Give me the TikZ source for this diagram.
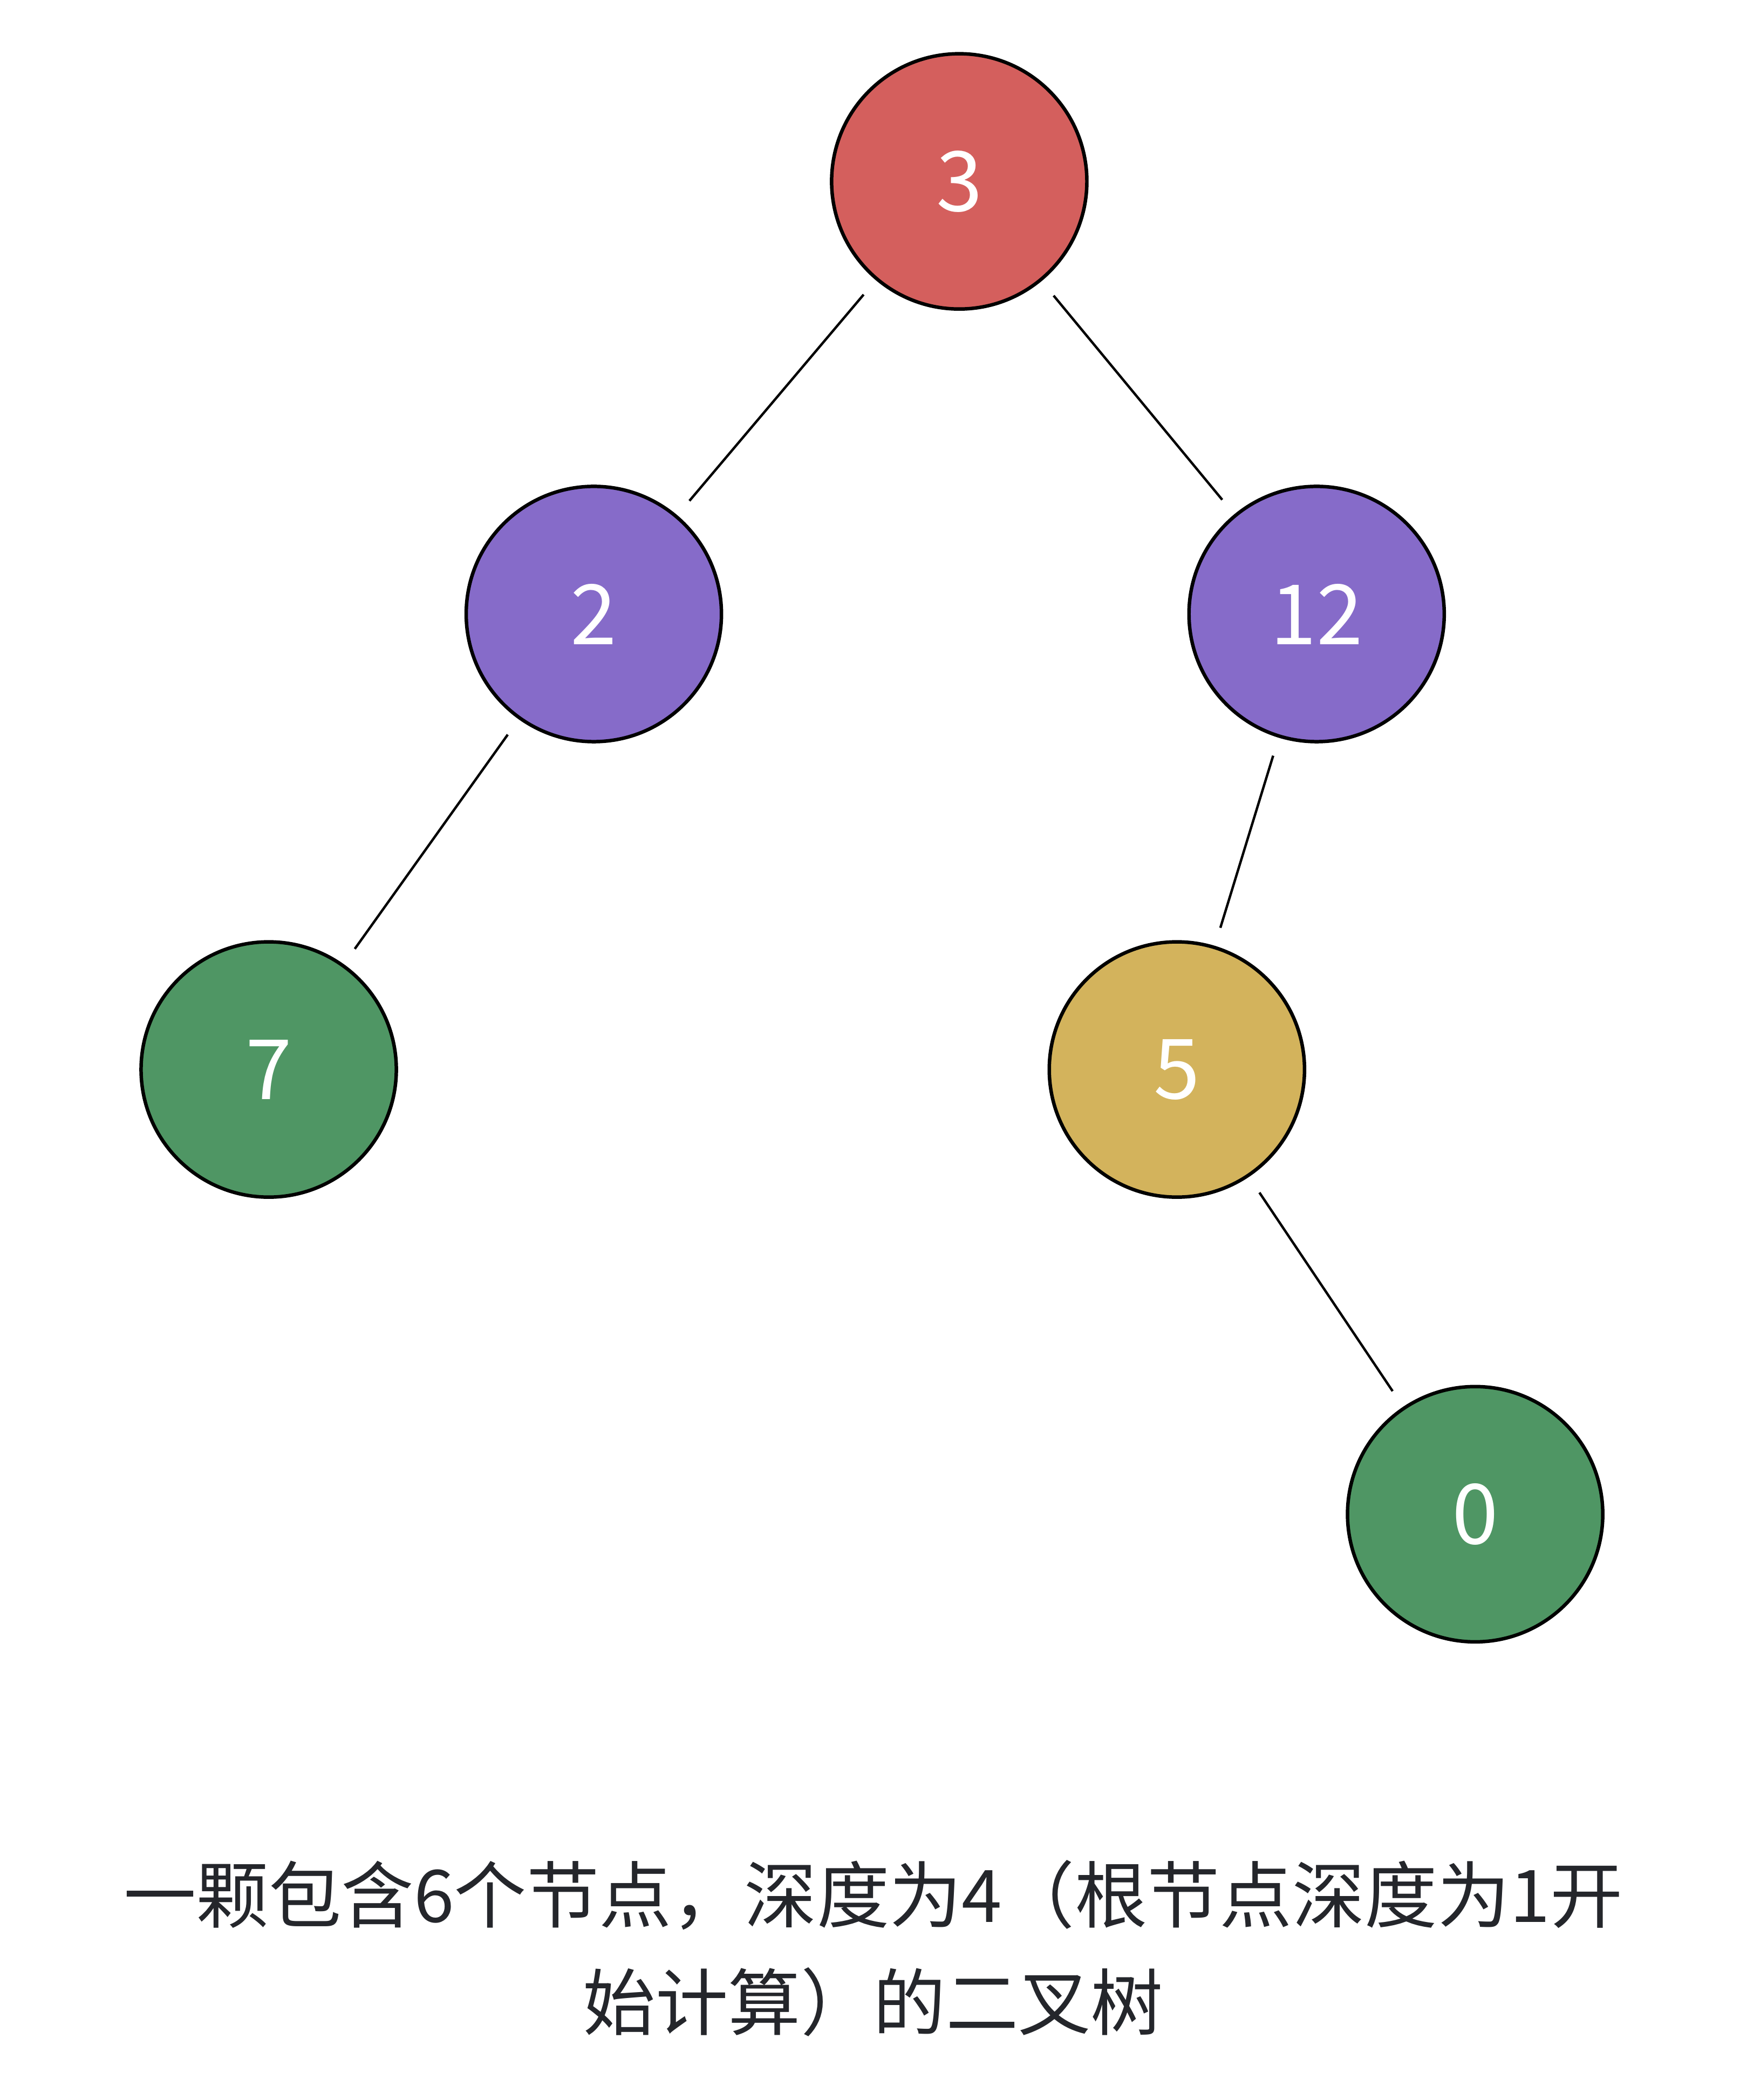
\documentclass[tikz,border=0pt]{standalone}
\usepackage{fontspec}
\setmainfont{Noto Sans CJK SC}
\definecolor{cred}{HTML}{D45F5D}
\definecolor{cpur}{HTML}{866BC9}
\definecolor{cgrn}{HTML}{4F9664}
\definecolor{cyel}{HTML}{D3B35C}
\definecolor{ctxt}{HTML}{24262B}
\begin{document}
\begin{tikzpicture}[x=0.5pt,y=-0.5pt,
  tn/.style={circle,draw=black,line width=1.3pt,minimum size=95pt,inner sep=0pt,text=white,font=\fontsize{31}{36}\selectfont},
  ed/.style={line width=0.9pt,shorten <=7pt,shorten >=7pt}]
\useasboundingbox (0,0) rectangle (1300,1563);
\node[tn,fill=cred] (n3) at (714,135) {3};
\node[tn,fill=cpur] (n2) at (442,457) {2};
\node[tn,fill=cpur] (n12) at (980,457) {12};
\node[tn,fill=cgrn] (n7) at (200,796) {7};
\node[tn,fill=cyel] (n5) at (876,796) {5};
\node[tn,fill=cgrn] (n0) at (1098,1127) {0};
\draw[ed] (n3) -- (n2);
\draw[ed] (n3) -- (n12);
\draw[ed] (n2) -- (n7);
\draw[ed] (n12) -- (n5);
\draw[ed] (n5) -- (n0);
\node[text=ctxt,font=\fontsize{27}{40}\selectfont,align=center] (cap) at (650,1450) {一颗包含6个节点，深度为4（根节点深度为1开\\始计算）的二叉树};
\end{tikzpicture}
\end{document}
